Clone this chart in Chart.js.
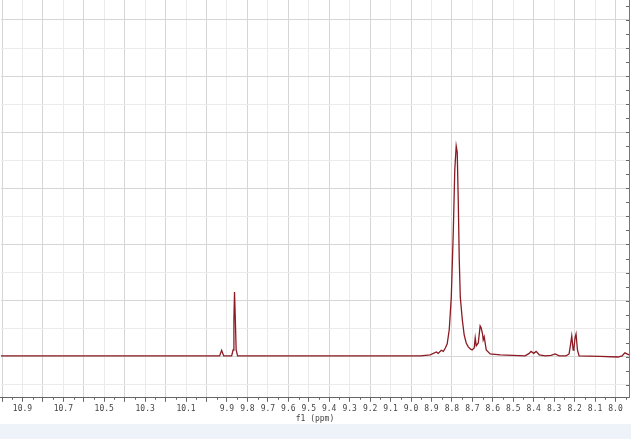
<!DOCTYPE html>
<html>
<head>
<meta charset="utf-8">
<script src="https://cdn.jsdelivr.net/npm/chart.js@4/dist/chart.umd.min.js"></script>
<style>
  html, body { margin: 0; padding: 0; background: #eef3fa; }
  #wrap { position: relative; width: 631px; height: 424px; background: #ffffff; }
  #nmrChart { position: absolute; left: 0; top: 0; }
</style>
</head>
<body>
<div id="wrap"><canvas id="nmrChart" width="631" height="424"></canvas></div>
<script>
// chemical shift (ppm)
const shiftPpm = [
  11.005, 9.936, 9.926, 9.916,
  9.877, 9.870, 9.866, 9.863, 9.859, 9.855, 9.848,
  8.954, 8.906, 8.876, 8.867, 8.852, 8.842, 8.832, 8.823, 8.813, 8.803, 8.793, 8.786,
  8.779, 8.774, 8.769, 8.764, 8.759, 8.749, 8.740, 8.730, 8.720, 8.710, 8.701, 8.691,
  8.686, 8.681, 8.671, 8.662, 8.657, 8.650, 8.647, 8.642, 8.632, 8.613, 8.564,
  8.442, 8.422, 8.413, 8.400, 8.388, 8.373, 8.344, 8.315, 8.295, 8.276,
  8.242, 8.227, 8.220, 8.214, 8.207, 8.203, 8.198, 8.193, 8.186, 8.178,
  8.076, 7.988, 7.968, 7.954, 7.944, 7.934
];
// intensity (arbitrary units)
const intensity = [
  0.03, 0.03, 0.23, 0.03,
  0.03, 0.24, 1.31, 2.31, 1.31, 0.24, 0.03,
  0.03, 0.07, 0.17, 0.12, 0.23, 0.19, 0.31, 0.46, 0.96, 2.13, 4.52, 6.65,
  7.51, 7.29, 5.59, 3.45, 2.13, 1.31, 0.78, 0.49, 0.35, 0.28, 0.24, 0.31,
  0.67, 0.39, 0.49, 1.10, 1.03, 0.81, 0.60, 0.71, 0.24, 0.10, 0.07,
  0.03, 0.12, 0.19, 0.12, 0.19, 0.07, 0.03, 0.05, 0.10, 0.03,
  0.03, 0.10, 0.42, 0.74, 0.24, 0.31, 0.67, 0.81, 0.24, 0.03,
  0.01, -0.01, 0.03, 0.14, 0.10, 0.07
];
// x tick labels that are printed
const tickLabels = [
  '10.9', '10.7', '10.5', '10.3', '10.1',
  '9.9', '9.8', '9.7', '9.6', '9.5', '9.4', '9.3', '9.2', '9.1', '9.0',
  '8.9', '8.8', '8.7', '8.6', '8.5', '8.4', '8.3', '8.2', '8.1', '8.0'
];

const points = shiftPpm.map(function (p, i) { return { x: p, y: intensity[i] }; });

// small minor ticks on bottom axis, inward ticks on right axis
const axisTicks = {
  id: 'axisTicks',
  afterDraw: function (chart) {
    const ctx = chart.ctx;
    const xs = chart.scales.x, ys = chart.scales.y;
    const area = chart.chartArea;
    ctx.save();
    ctx.strokeStyle = '#666';
    ctx.lineWidth = 1;
    ctx.beginPath();
    for (let v = 7.95; v <= 11.0; v += 0.1) {
      const px = Math.round(xs.getPixelForValue(v)) + 0.5;
      ctx.moveTo(px, area.bottom);
      ctx.lineTo(px, area.bottom + 2);
    }
    for (let v = -1; v <= 12.5; v += 0.5) {
      const py = Math.round(ys.getPixelForValue(v)) + 0.5;
      ctx.moveTo(area.right, py);
      ctx.lineTo(area.right - 3, py);
    }
    ctx.stroke();
    ctx.restore();
  }
};

function gridColour(c) {
  const v = Math.round(c.tick.value * 10);
  return v % 2 === 0 ? '#d6d6d6' : '#ebebeb';
}

new Chart(document.getElementById('nmrChart'), {
  type: 'line',
  data: {
    datasets: [{
      data: points,
      borderColor: '#8b1a22',
      borderWidth: 1.3,
      pointRadius: 0,
      tension: 0,
      fill: false
    }]
  },
  plugins: [axisTicks],
  options: {
    responsive: false,
    animation: false,
    layout: { padding: { left: 0, right: 2, top: 0, bottom: 0 } },
    plugins: { legend: { display: false }, tooltip: { enabled: false } },
    scales: {
      x: {
        type: 'linear',
        reverse: true,
        min: 7.934,
        max: 11.005,
        grid: { color: gridColour, tickLength: 4, tickColor: '#666' },
        border: { display: true, color: '#666' },
        ticks: {
          stepSize: 0.1,
          includeBounds: false,
          autoSkip: false,
          maxRotation: 0,
          padding: 2,
          color: '#444',
          font: { family: 'DejaVu Sans Mono', size: 8 },
          callback: function (value) {
            const s = (Math.round(value * 10) / 10).toFixed(1);
            return tickLabels.indexOf(s) >= 0 ? s : '';
          }
        },
        title: {
          display: true,
          text: 'f1 (ppm)',
          color: '#444',
          padding: { top: -1, bottom: 0 },
          font: { family: 'DejaVu Sans Mono', size: 8 }
        }
      },
      y: {
        type: 'linear',
        position: 'right',
        min: -1.463,
        max: 12.712,
        grid: {
          color: function (c) { return Math.round(c.tick.value) % 2 === 0 ? '#d6d6d6' : '#ebebeb'; },
          drawTicks: false
        },
        border: { display: true, color: '#777' },
        ticks: { display: false, stepSize: 1, includeBounds: false }
      }
    }
  }
});
</script>
</body>
</html>
